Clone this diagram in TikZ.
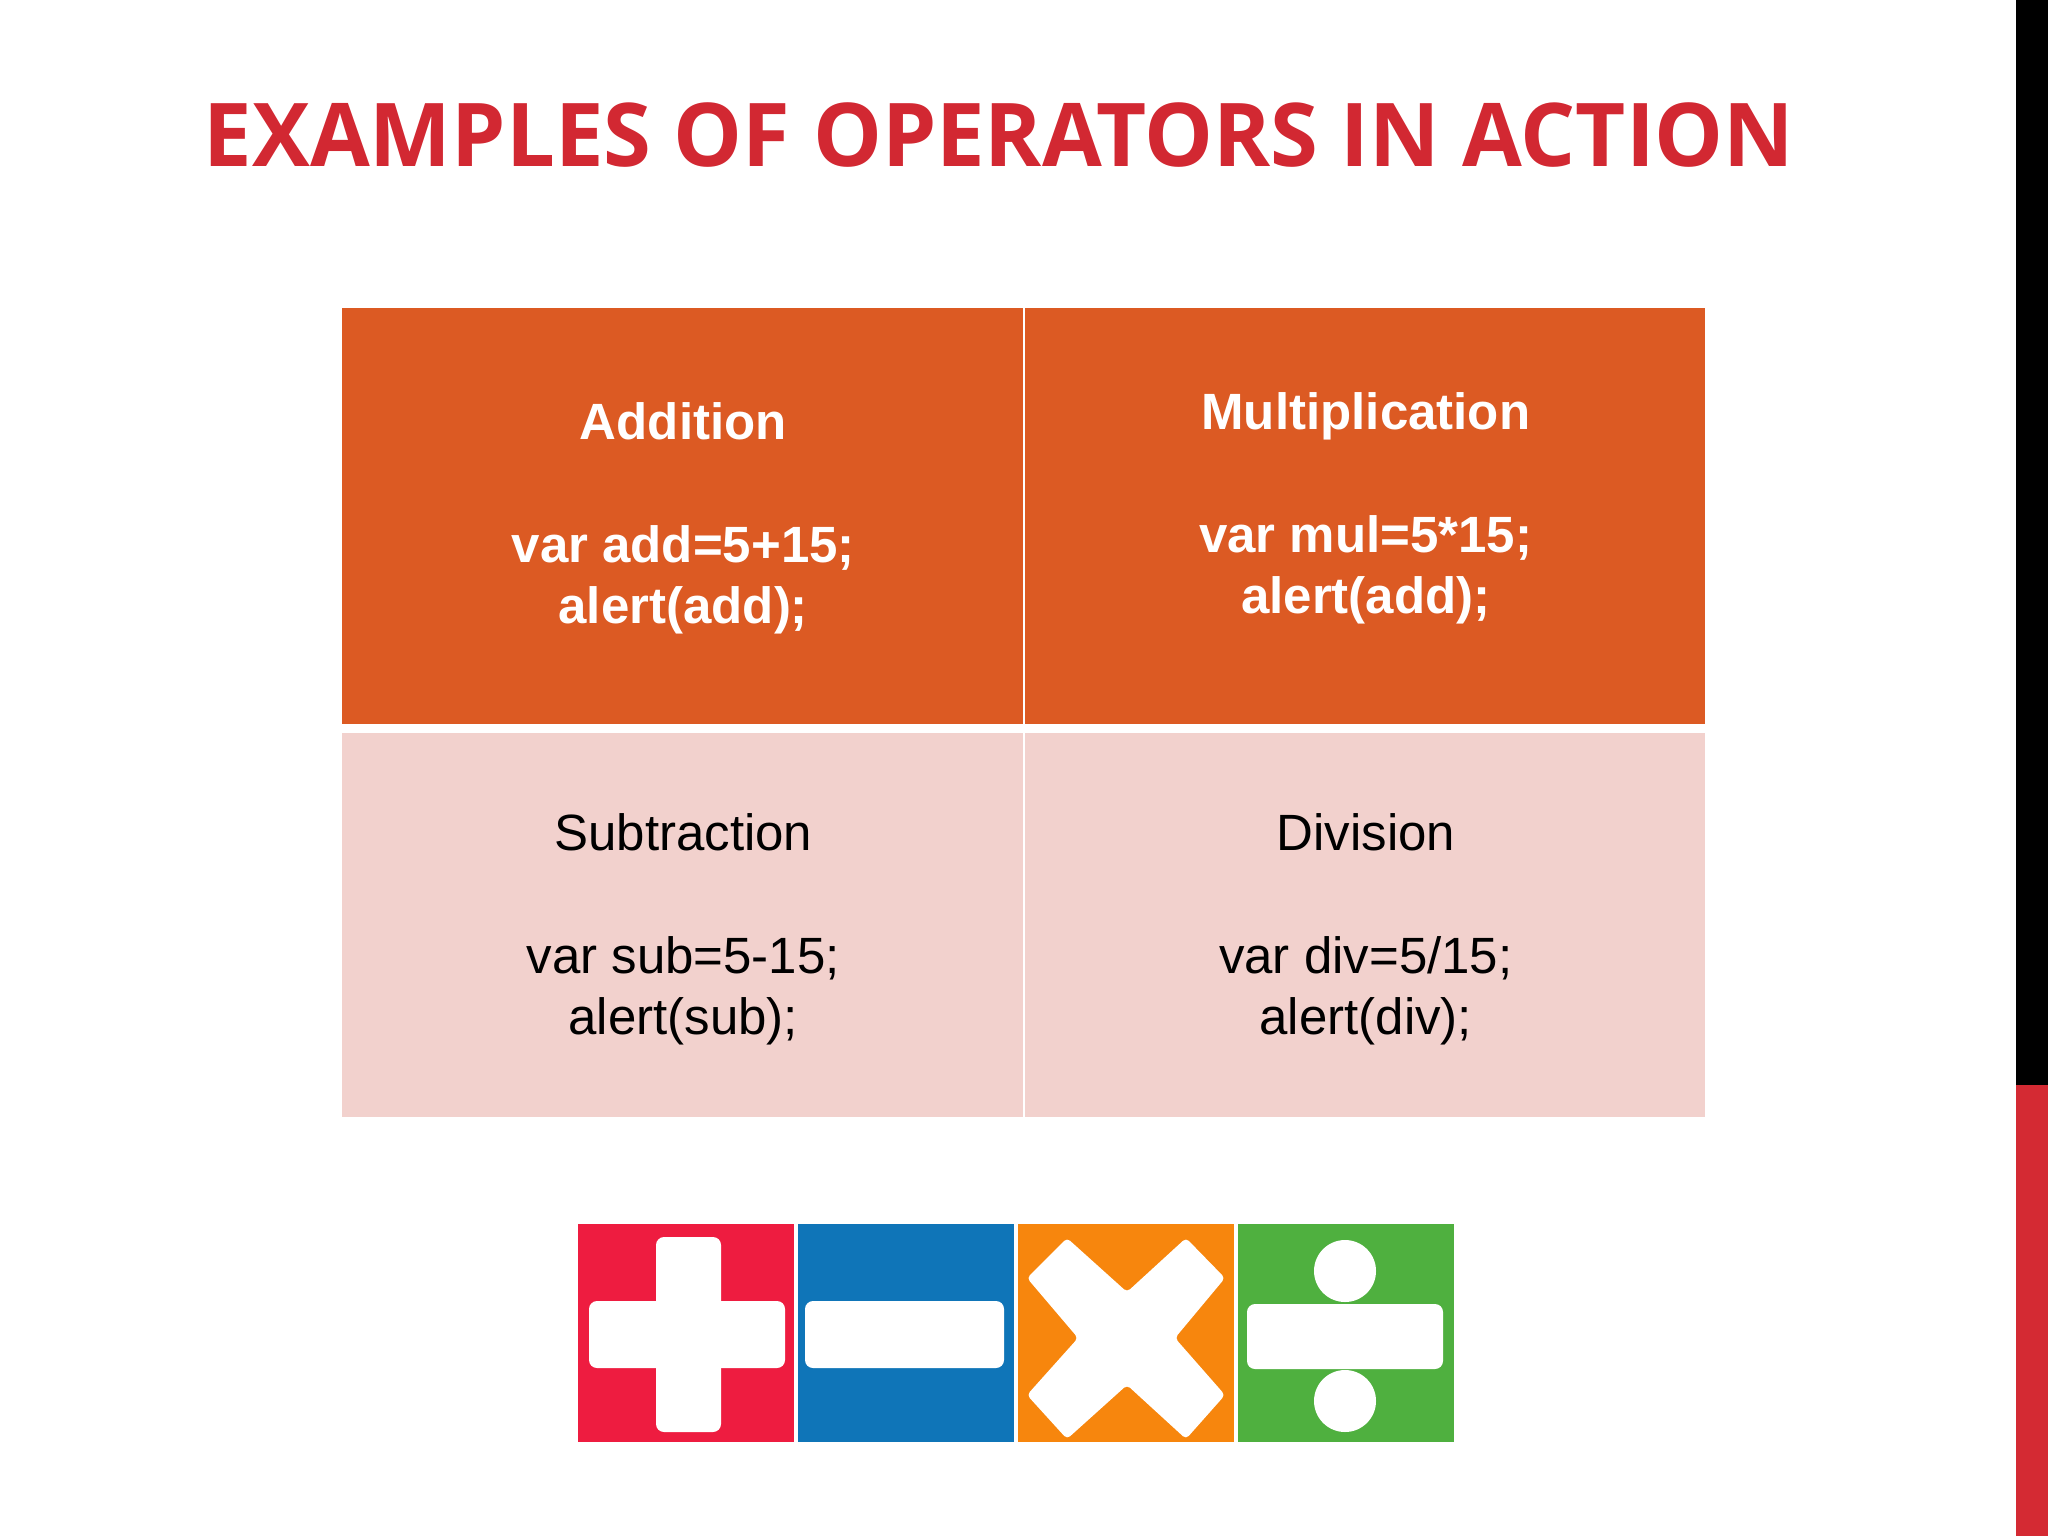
\documentclass[tikz,border=0pt]{standalone}
\usepackage{fontspec}
\setmainfont{Liberation Sans}
\newfontfamily\titlefont[FakeStretch=0.985]{Open Sans}
\definecolor{titlered}{HTML}{D22832}
\definecolor{barred}{HTML}{D42A33}
\definecolor{headfill}{HTML}{DC5A23}
\definecolor{bodyfill}{HTML}{F2D1CD}
\definecolor{plusred}{HTML}{EE1C40}
\definecolor{minusblue}{HTML}{0F75B8}
\definecolor{timesorange}{HTML}{F7860D}
\definecolor{dividegreen}{HTML}{4FB03F}
\tikzset{
	headcell/.style={fill=headfill,anchor=north west,inner sep=0pt,outer sep=0pt,minimum height=208pt},
	bodycell/.style={fill=bodyfill,anchor=north west,inner sep=0pt,outer sep=0pt,minimum height=192pt},
	headtext/.style={text=white,align=center,xshift=0.4pt,font=\fontsize{25.5}{30.7}\selectfont\bfseries},
	bodytext/.style={text=black,align=center,xshift=0.4pt,font=\fontsize{25.5}{30.7}\selectfont},
	optile/.style={anchor=north west,inner sep=0pt,outer sep=0pt,minimum width=108pt,minimum height=109pt},
	opshape/.style={fill=white,rounded corners=4pt}
}
\begin{document}
\begin{tikzpicture}[x=0.5pt,y=-0.5pt]
	\useasboundingbox (0,0) rectangle (2048,1536);
	% side bar
	\fill[black] (2016,0) rectangle (2048,1085);
	\fill[barred] (2016,1085) rectangle (2048,1536);
	\node[text=titlered,font=\titlefont\fontsize{44}{50}\selectfont\bfseries] (title) at (999,135) {EXAMPLES OF OPERATORS IN ACTION};
	% table
	\node[headcell,minimum width=340.5pt] (addcell) at (342,308) {};
	\node[headcell,minimum width=340pt] (mulcell) at (1025,308) {};
	\node[bodycell,minimum width=340.5pt] (subcell) at (342,733) {};
	\node[bodycell,minimum width=340pt] (divcell) at (1025,733) {};
	\node[headtext,yshift=-1.3pt] (addtext) at (addcell) {Addition\\ \\var add=5+15;\\alert(add);};
	\node[headtext,yshift=3.7pt] (multext) at (mulcell) {Multiplication\\ \\var mul=5*15;\\alert(add);};
	\node[bodytext,yshift=-2.3pt] (subtext) at (subcell) {Subtraction\\ \\var sub=5-15;\\alert(sub);};
	\node[bodytext,yshift=-2.3pt] (divtext) at (divcell) {Division\\ \\var div=5/15;\\alert(div);};
	% operator tiles
	\node[optile,fill=plusred] (plustile) at (578,1224) {};
	\node[optile,fill=minusblue] (minustile) at (798,1224) {};
	\node[optile,fill=timesorange] (timestile) at (1018,1224) {};
	\node[optile,fill=dividegreen] (dividetile) at (1238,1224) {};
	\fill[opshape] (656,1237) rectangle (721,1432);
	\fill[opshape] (589,1301) rectangle (785,1368);
	\fill[opshape] (805,1301) rectangle (1004,1368);
	\fill[opshape,rounded corners=2pt] (1067,1238) -- (1127,1292) -- (1186,1238) -- (1225,1278) -- (1175,1338) -- (1225,1395)
		-- (1186,1439) -- (1127,1385) -- (1067,1439) -- (1027,1395) -- (1078,1338) -- (1027,1278) -- cycle;
	\fill[opshape] (1247,1304) rectangle (1443,1369);
	\fill[white] (1345,1271) circle [radius=31];
	\fill[white] (1345,1401) circle [radius=31];
\end{tikzpicture}
\end{document}
